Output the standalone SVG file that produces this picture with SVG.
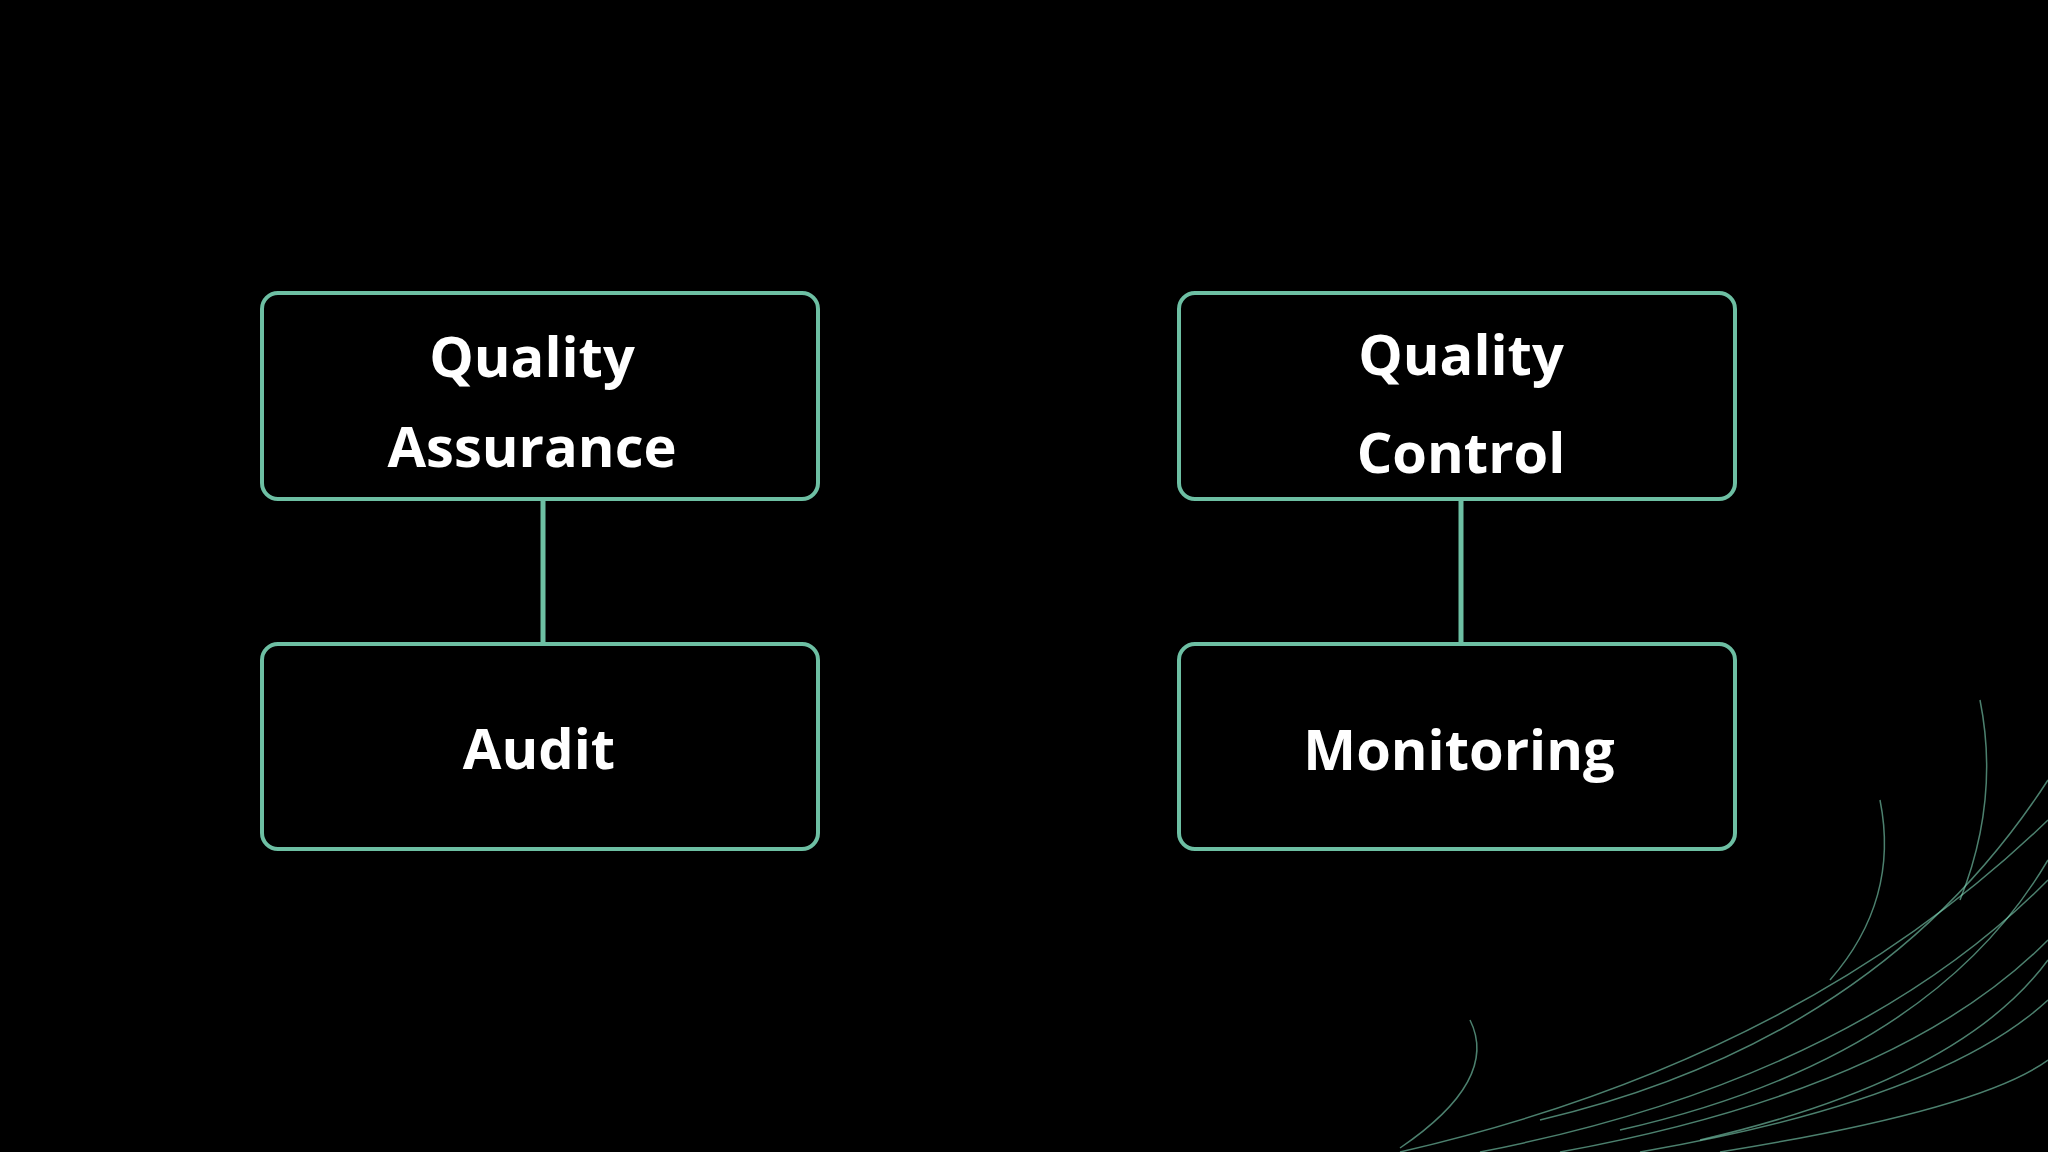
<svg xmlns="http://www.w3.org/2000/svg" width="2048" height="1152" viewBox="0 0 2048 1152">
<style>
.box{fill:#000;stroke:#6dbfa3;stroke-width:4}
.t{fill:#fff;font-family:"Open Sans","Liberation Sans",sans-serif;font-weight:bold;font-size:56px;text-anchor:middle;dominant-baseline:central}
.c{stroke:#6dbfa3;stroke-width:5}
.s{fill:none;stroke:#7fd6b8;stroke-width:1.5;opacity:.6}
</style>
<rect width="2048" height="1152" fill="#000"/>
<g id="streaks">
<path class="s" d="M1400 1152 Q1800 1060 2048 820"/>
<path class="s" d="M1480 1152 Q1850 1080 2048 880"/>
<path class="s" d="M1560 1152 Q1900 1090 2048 940"/>
<path class="s" d="M1640 1152 Q1940 1100 2048 1000"/>
<path class="s" d="M1720 1152 Q1980 1110 2048 1060"/>
<path class="s" d="M1540 1120 Q1880 1040 2048 780"/>
<path class="s" d="M1620 1130 Q1930 1060 2048 860"/>
<path class="s" d="M1700 1140 Q1960 1080 2048 960"/>
<path class="s" d="M1400 1148 Q1500 1080 1470 1020"/>
<path class="s" d="M1830 980 Q1900 900 1880 800"/>
<path class="s" d="M1960 900 Q2000 800 1980 700"/>
</g>
<g id="connectors">
<line class="c" x1="543" y1="499" x2="543" y2="644"/>
<line class="c" x1="1461" y1="499" x2="1461" y2="644"/>
</g>
<g id="qa"><rect class="box" x="262" y="293" width="556" height="206" rx="16"/>
<text class="t" x="532" y="355">Quality</text><text class="t" x="532" y="445">Assurance</text></g>
<g id="audit"><rect class="box" x="262" y="644" width="556" height="205" rx="16"/>
<text class="t" x="539" y="747">Audit</text></g>
<g id="qc"><rect class="box" x="1179" y="293" width="556" height="206" rx="16"/>
<text class="t" x="1461" y="353">Quality</text><text class="t" x="1461" y="451">Control</text></g>
<g id="monitoring"><rect class="box" x="1179" y="644" width="556" height="205" rx="16"/>
<text class="t" x="1459" y="748">Monitoring</text></g>
</svg>
